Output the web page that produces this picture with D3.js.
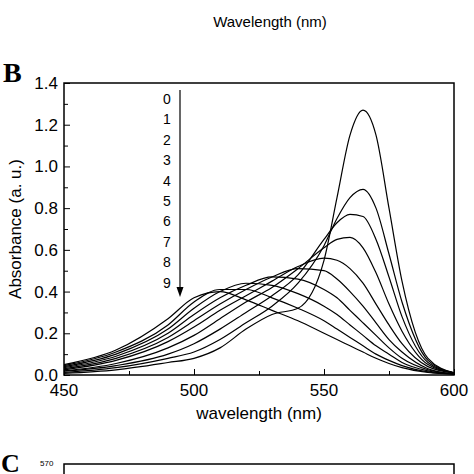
<!DOCTYPE html>
<html>
<head>
<meta charset="utf-8">
<script src="https://cdn.jsdelivr.net/npm/d3@7"></script>
<style>
  body { margin: 0; background: #fff; }
  text { font-family: "Liberation Sans", Arial, sans-serif; }
</style>
</head>
<body>
<div id="chart"></div>
<script>
// wavelengths sampled (nm)
const wavelengths = [450, 470, 490, 500, 510, 520, 530, 540, 550, 555, 560, 565, 570, 575, 580, 590, 600];

// absorbance spectra, curve 0 .. 9
const spectra = [
  [0.008, 0.025, 0.06, 0.08, 0.13, 0.22, 0.29, 0.32, 0.55, 0.85, 1.15, 1.27, 1.15, 0.80, 0.45, 0.08, 0.01],
  [0.012, 0.035, 0.08, 0.11, 0.17, 0.25, 0.33, 0.44, 0.62, 0.75, 0.85, 0.89, 0.80, 0.58, 0.35, 0.07, 0.01],
  [0.018, 0.045, 0.10, 0.15, 0.22, 0.30, 0.38, 0.48, 0.65, 0.73, 0.77, 0.76, 0.65, 0.47, 0.28, 0.06, 0.01],
  [0.02, 0.055, 0.13, 0.19, 0.27, 0.35, 0.42, 0.51, 0.61, 0.65, 0.66, 0.61, 0.49, 0.34, 0.21, 0.05, 0.01],
  [0.025, 0.07, 0.16, 0.23, 0.31, 0.38, 0.45, 0.52, 0.56, 0.55, 0.51, 0.44, 0.34, 0.24, 0.15, 0.04, 0.01],
  [0.03, 0.08, 0.18, 0.26, 0.34, 0.41, 0.47, 0.51, 0.50, 0.46, 0.40, 0.33, 0.25, 0.17, 0.11, 0.03, 0.005],
  [0.035, 0.09, 0.20, 0.29, 0.37, 0.43, 0.47, 0.46, 0.41, 0.37, 0.31, 0.25, 0.19, 0.13, 0.08, 0.025, 0.005],
  [0.04, 0.10, 0.22, 0.32, 0.40, 0.44, 0.43, 0.39, 0.33, 0.29, 0.24, 0.19, 0.14, 0.10, 0.06, 0.02, 0.005],
  [0.045, 0.11, 0.24, 0.35, 0.41, 0.41, 0.37, 0.32, 0.26, 0.22, 0.18, 0.14, 0.10, 0.07, 0.045, 0.015, 0.005],
  [0.05, 0.12, 0.27, 0.37, 0.40, 0.36, 0.31, 0.26, 0.20, 0.17, 0.14, 0.11, 0.08, 0.055, 0.035, 0.012, 0.004]
];

const legendLabels = ["0", "1", "2", "3", "4", "5", "6", "7", "8", "9"];
const xTicks = [450, 500, 550, 600];
const yTicks = [0, 0.2, 0.4, 0.6, 0.8, 1.0, 1.2, 1.4];

const W = 474, H = 474;
const svg = d3.select("#chart").append("svg").attr("width", W).attr("height", H);

const x = d3.scaleLinear().domain([450, 600]).range([64, 454]);
const y = d3.scaleLinear().domain([0, 1.4]).range([375, 83]);

// header text left over from panel above
svg.append("text").attr("x", 270).attr("y", 27).attr("text-anchor", "middle")
  .attr("font-size", 15).text("Wavelength (nm)");

svg.append("text").attr("x", 3).attr("y", 82)
  .style("font-family", "Liberation Serif, Times New Roman, serif")
  .attr("font-weight", "bold").attr("font-size", 28).text("B");

// x axis (ticks inward)
const xAxis = svg.append("g").attr("transform", "translate(0,375)")
  .call(d3.axisTop(x).tickValues(d3.range(450, 601, 25)).tickSize(5).tickFormat(""));
xAxis.selectAll(".tick line").attr("y2", (d) => (d % 50 === 0 ? -6 : -4));
xAxis.select(".domain").remove();
svg.append("g").selectAll("text").data(xTicks).join("text")
  .attr("x", (d) => x(d)).attr("y", 396).attr("text-anchor", "middle")
  .attr("font-size", 17).text((d) => d);

// y axis
const yAxis = svg.append("g").attr("transform", "translate(64,0)")
  .call(d3.axisRight(y).tickValues(d3.range(0, 1.41, 0.1)).tickSize(5).tickFormat(""));
yAxis.selectAll(".tick line").attr("x2", (d, i) => (i % 2 === 0 ? 6 : 4));
yAxis.select(".domain").remove();
svg.append("g").selectAll("text").data(yTicks).join("text")
  .attr("x", 58).attr("y", (d) => y(d) + 6).attr("text-anchor", "end")
  .attr("font-size", 17).text((d) => d.toFixed(1));

svg.append("text").attr("transform", "translate(21,229) rotate(-90)")
  .attr("text-anchor", "middle").attr("font-size", 17).text("Absorbance (a. u.)");
svg.append("text").attr("x", 259).attr("y", 419).attr("text-anchor", "middle")
  .attr("font-size", 17).text("wavelength (nm)");

// frame
svg.append("rect").attr("x", 64).attr("y", 83).attr("width", 390).attr("height", 292)
  .attr("fill", "none").attr("stroke", "#000").attr("stroke-width", 1.5);

// spectra
const line = d3.line().x((d, i) => x(wavelengths[i])).y((d) => y(d)).curve(d3.curveMonotoneX);
svg.append("g").selectAll("path").data(spectra).join("path")
  .attr("d", line).attr("fill", "none").attr("stroke", "#000").attr("stroke-width", 1.2);

// legend numbers and arrow
svg.append("g").selectAll("text").data(legendLabels).join("text")
  .attr("x", 167).attr("y", (d, i) => 104 + i * 20.4).attr("text-anchor", "middle")
  .attr("font-size", 14).text((d) => d);
svg.append("line").attr("x1", 180).attr("x2", 180).attr("y1", 90).attr("y2", 290)
  .attr("stroke", "#000").attr("stroke-width", 1.2);
svg.append("path").attr("d", "M176.5,287 L183.5,287 L180,297 Z").attr("fill", "#000");

// start of panel C
svg.append("text").attr("x", 1).attr("y", 472)
  .style("font-family", "Liberation Serif, Times New Roman, serif")
  .attr("font-weight", "bold").attr("font-size", 26).text("C");
svg.append("text").attr("x", 40).attr("y", 466).attr("font-size", 8).text("570");
svg.append("path").attr("d", "M64,480 V464 H454 V480")
  .attr("fill", "none").attr("stroke", "#000").attr("stroke-width", 1.5);
</script>
</body>
</html>
